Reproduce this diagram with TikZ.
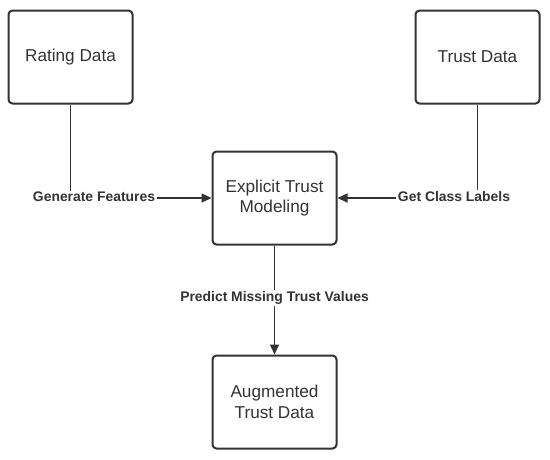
\documentclass[tikz,border=0pt]{standalone}
\usepackage{fontspec}
\setmainfont{Liberation Sans}
\usetikzlibrary{arrows.meta}
\definecolor{ink}{HTML}{333333}
\begin{document}
\begin{tikzpicture}[x=1pt,y=-1pt,
  box/.style={draw=ink,line width=2pt,rounded corners=4pt,minimum width=124pt,minimum height=93pt,
    align=center,font=\fontsize{17.2}{20.5}\selectfont,text=ink,inner sep=0pt},
  conn/.style={draw=ink,line width=1.6pt},
  arr/.style={conn,-{Triangle[length=10pt,width=9pt]}},
  lab/.style={fill=white,font=\bfseries\fontsize{13.9}{16}\selectfont,text=ink,inner sep=1.5pt}]
\useasboundingbox (0,0) rectangle (550,459);
\node[box] (rating) at (70.5,57) {Rating Data};
\node[box] (trust) at (477.5,57) {Trust Data};
\node[box] (explicit) at (274.5,198) {Explicit Trust\\Modeling};
\node[box] (aug) at (274.5,402) {Augmented\\Trust Data};
\coordinate (c1) at (rating.south |- explicit.west);
\coordinate (c2) at (trust.south |- explicit.east);
\draw[arr] (rating.south) -- (c1) -- (explicit.west);
\draw[arr] (trust.south) -- (c2) -- (explicit.east);
\draw[arr] (explicit.south) -- (aug.north);
\node[lab] (l1) at (94,197) {Generate Features};
\node[lab] (l2) at (454,197) {Get Class Labels};
\node[lab] (l3) at (274.5,298) {Predict Missing Trust Values};
\end{tikzpicture}
\end{document}
